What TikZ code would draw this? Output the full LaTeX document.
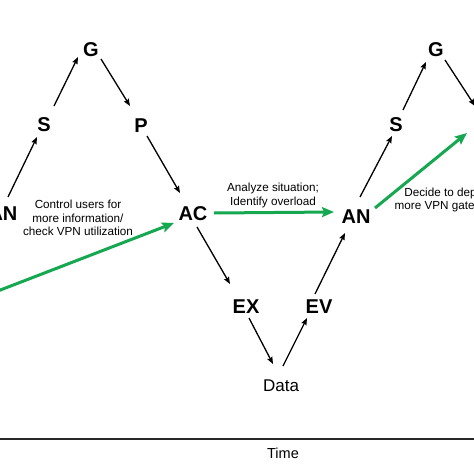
\documentclass[tikz,border=0pt]{standalone}
\usepackage{fontspec}
\setmainfont{Liberation Sans}
\usetikzlibrary{arrows.meta,calc}
\definecolor{arrowgreen}{RGB}{22,168,80}
\definecolor{axisgray}{RGB}{40,40,40}
\tikzset{
  stage/.style={font=\fontsize{20}{24}\selectfont\bfseries, inner sep=0pt},
  note/.style={font=\fontsize{11.7}{13.8}\selectfont, align=center, inner sep=0pt},
  plain/.style={inner sep=0pt},
  flow/.style={line width=1.3pt, -{Stealth[length=7pt,width=5.5pt,inset=1pt]}},
  action/.style={line width=3pt, draw=arrowgreen, -{Stealth[length=12pt,width=10pt,inset=2pt]}},
  axisline/.style={line width=1.5pt, draw=axisgray},
}
\begin{document}
\begin{tikzpicture}[x=1pt,y=-1pt]
\useasboundingbox (0,0) rectangle (474,474);
\fill[white] (0,0) rectangle (474,474);
\clip (0,0) rectangle (474,474);

% left triangle
\node[stage] (ANl) at (3,214) {AN};
\node[stage] (Sl) at (44,125) {S};
\node[stage] (Gl) at (91,50) {G};
\node[stage] (Pl) at (141,126) {P};
\node[stage] (AC) at (193,214) {AC};
% bottom V
\node[stage] (EX) at (246,307) {EX};
\node[font=\fontsize{17}{20}\selectfont, plain] (Data) at (281,386) {Data};
\node[stage] (EV) at (319,307) {EV};
% right triangle
\node[stage] (ANr) at (356,217) {AN};
\node[stage] (Sr) at (396,125) {S};
\node[stage] (Gr) at (436,50) {G};
\coordinate (Pr) at (486,126);
\coordinate (gin) at (-10,294);

% labels
\node[note] (lab1) at (78,218) {Control users for\\more information/\\check VPN utilization};
\node[note] (lab2) at (273,195.5) {Analyze situation;\\Identify overload};
\node[note] (lab3) at (448,200) {Decide to deploy\\more VPN gateways};

% black flow arrows
\draw[flow] ($(ANl)+(5,-17)$) -- ($(Sl)+(-7,12)$);
\draw[flow] ($(Sl)+(10,-19)$) -- ($(Gl)+(-13,7)$);
\draw[flow] ($(Gl)+(10,9)$) -- ($(Pl)+(-11,-20)$);
\draw[flow] ($(Pl)+(6,10)$) -- ($(AC)+(-13,-21)$);
\draw[flow] ($(AC)+(4,13)$) -- ($(EX)+(-16,-23)$);
\draw[flow] ($(EX)+(3,11)$) -- ($(Data)+(-8,-22)$);
\draw[flow] ($(Data)+(2,-20)$) -- ($(EV)+(-12,11)$);
\draw[flow] ($(EV)+(-4,-13)$) -- ($(ANr)+(-11,16)$);
\draw[flow] ($(ANr)+(4,-20)$) -- ($(Sr)+(-4,11)$);
\draw[flow] ($(Sr)+(7,-15)$) -- ($(Gr)+(-10,12)$);
\draw[flow] ($(Gr)+(9,10)$) -- ($(Pr)+(-11,-20)$);

% green action arrows
\draw[action] (gin) -- ($(AC)+(-19,9)$);
\draw[action] ($(AC)+(21,-1)$) -- ($(ANr)+(-22,-5)$);
\draw[action] ($(ANr)+(19,-9)$) -- ($(Pr)+(-19,7)$);

% time axis
\coordinate (axL) at (0,439);
\coordinate (axR) at (474,439);
\draw[axisline] (axL) -- (axR);
\node[font=\fontsize{14.5}{17}\selectfont, plain] (time) at (283,453.5) {Time};
\end{tikzpicture}
\end{document}
